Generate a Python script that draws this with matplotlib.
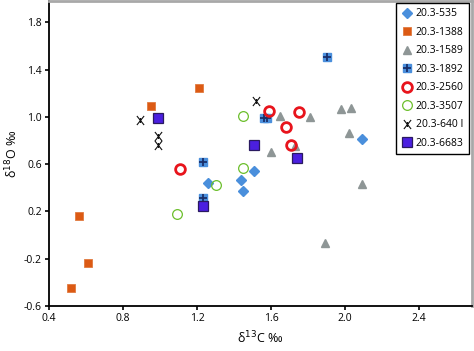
import matplotlib
matplotlib.use("Agg")
import matplotlib.pyplot as plt
from matplotlib.path import Path
from matplotlib.legend_handler import HandlerTuple

plt.rcParams["font.family"] = ["Open Sans", "DejaVu Sans"]

# ---------------- data ---------------- #
x_535 = [1.26, 1.44, 1.45, 1.51, 2.09]
y_535 = [0.44, 0.47, 0.37, 0.54, 0.815]

x_1388 = [0.52, 0.56, 0.61, 0.95, 1.21]
y_1388 = [-0.445, 0.16, -0.235, 1.09, 1.24]

x_1589 = [1.60, 1.65, 1.73, 1.81, 1.98, 2.03, 2.02, 2.09, 1.89]
y_1589 = [0.70, 1.01, 0.755, 1.00, 1.07, 1.075, 0.86, 0.43, -0.065]

x_1892 = [1.23, 1.23, 1.56, 1.58, 1.90]
y_1892 = [0.62, 0.31, 0.99, 0.99, 1.505]

x_2560 = [1.11, 1.59, 1.75, 1.68, 1.71]
y_2560 = [0.56, 1.05, 1.04, 0.915, 0.76]

x_3507 = [1.09, 1.30, 1.45, 1.45]
y_3507 = [0.18, 0.42, 0.565, 1.005]

x_6401 = [0.89, 0.99, 0.99, 1.52]
y_6401 = [0.97, 0.84, 0.76, 1.13]

x_6683 = [0.99, 1.23, 1.51, 1.74]
y_6683 = [0.99, 0.245, 0.765, 0.65]

x_ticks = [0.4, 0.8, 1.2, 1.6, 2.0, 2.4]
y_ticks = [-0.6, -0.2, 0.2, 0.6, 1.0, 1.4, 1.8]

# "ж"-like marker: an X plus a vertical bar
zhe = Path(
    [(-0.8, -1), (0.8, 1), (-0.8, 1), (0.8, -1), (0, -0.55), (0, 0.55)],
    [Path.MOVETO, Path.LINETO, Path.MOVETO, Path.LINETO, Path.MOVETO, Path.LINETO],
)

# ---------------- plot ---------------- #
fig = plt.figure(figsize=(4.74, 3.51), dpi=100)
ax = fig.add_axes([0.1034, 0.1282, 0.8924, 0.869])

h535, = ax.plot(x_535, y_535, "D", ls="none", ms=5, color="#4a8fdc", mec="#4a8fdc")
h1388, = ax.plot(x_1388, y_1388, "s", ls="none", ms=6, color="#dc5a14", mec="#e07a40", mew=0.6)
h1589, = ax.plot(x_1589, y_1589, "^", ls="none", ms=6, color="#8e9696", mec="#8e9696")
h1892a, = ax.plot(x_1892, y_1892, "s", ls="none", ms=6, color="#4a8fdc", mec="#4a8fdc")
h1892b, = ax.plot(x_1892, y_1892, "+", ls="none", ms=6, mew=1.3, color="#1a2f6a")
h2560, = ax.plot(x_2560, y_2560, "o", ls="none", ms=7, mfc="none", mec="#e8141c", mew=2.0)
h3507, = ax.plot(x_3507, y_3507, "o", ls="none", ms=7, mfc="none", mec="#6cbf2c", mew=0.9)
h6401, = ax.plot(x_6401, y_6401, marker=zhe, ls="none", ms=6.5, mew=0.8, color="#111111")
h6683, = ax.plot(x_6683, y_6683, "s", ls="none", ms=6.5, color="#4b1fe0", mec="#2a1a60", mew=0.9)

ax.set_xlim(0.4, 2.686)
ax.set_ylim(-0.6, 1.98)
ax.set_xticks(x_ticks)
ax.set_yticks(y_ticks)
ax.set_xticklabels([f"{v:.1f}" for v in x_ticks])
ax.set_yticklabels([f"{v:.1f}" for v in y_ticks])
ax.tick_params(direction="out", length=3, width=1.2, labelsize=7.5, pad=2)

for side in ["left", "bottom"]:
    ax.spines[side].set_linewidth(1.3)
    ax.spines[side].set_color("black")
for side in ["top", "right"]:
    ax.spines[side].set_linewidth(2.0)
    ax.spines[side].set_color("#a8a8a8")

ax.set_xlabel("δ$^{13}$C ‰", fontsize=9, labelpad=4)
ax.set_ylabel("δ$^{18}$O ‰", fontsize=9, labelpad=3)

leg = ax.legend(
    [h535, h1388, h1589, (h1892a, h1892b), h2560, h3507, h6401, h6683],
    ["20.3-535", "20.3-1388", "20.3-1589", "20.3-1892", "20.3-2560",
     "20.3-3507", "20.3-640 I", "20.3-6683"],
    handler_map={tuple: HandlerTuple(ndivide=1)},
    loc="upper right", bbox_to_anchor=(0.992, 0.993), fontsize=7.5,
    frameon=True, fancybox=False, edgecolor="black", framealpha=1,
    handlelength=1.0, handletextpad=0.35, labelspacing=0.72, borderpad=0.5,
    borderaxespad=0.0,
)
leg.get_frame().set_linewidth(1.0)

fig.savefig("out.png", dpi=100)
